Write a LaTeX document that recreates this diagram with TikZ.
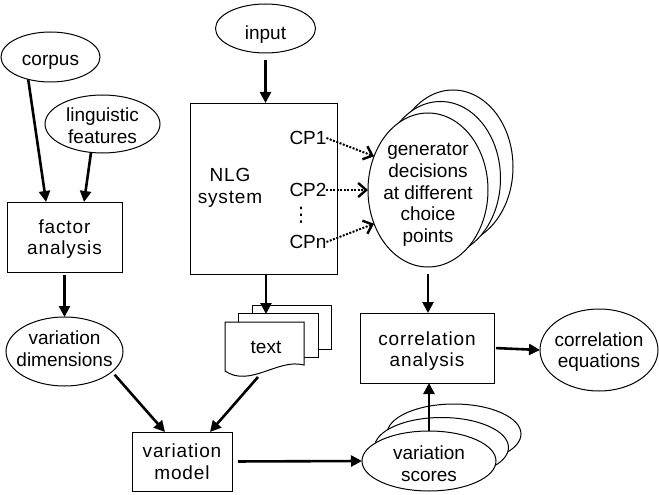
\documentclass[tikz,border=0pt]{standalone}
\usepackage{fontspec}
\setmainfont{Liberation Sans}
\newfontfamily\boxfont[LetterSpace=4.5]{Liberation Sans}
\newfontfamily\dejavu{DejaVu Sans}
\usetikzlibrary{shapes.geometric,arrows.meta,calc}
\begin{document}
\begin{tikzpicture}[x=1pt,y=-1pt,
  every node/.style={font=\fontsize{19}{21.7}\selectfont, align=center, inner sep=0pt, outer sep=0pt},
  ell/.style={draw, ellipse, line width=1pt, fill=white},
  rbox/.style={draw, rectangle, line width=1pt, fill=white},
  btext/.style={font=\boxfont\fontsize{19}{21.7}\selectfont},
  sheet/.style={draw, line width=1pt, fill=white},
  arr/.style={line width=2.6pt, -{Triangle[length=11pt,width=11pt]}},
  darr/.style={line width=2pt, dash pattern=on 2pt off 1.5pt, -{Straight Barb[length=8pt,width=14pt,line width=2.4pt]}}
]
\useasboundingbox (0,0) rectangle (659,495);

% left column
\node[ell, minimum width=99pt, minimum height=50pt] (corpus) at (50.5,57) {};
\node (corpusT) at ($(corpus)+(0,5)$) {corpus};
\node[ell, minimum width=115pt, minimum height=58pt] (ling) at (102.5,124) {};
\node (lingT) at ($(ling)+(0,2)$) {linguistic\\features};
\node[rbox, minimum width=115pt, minimum height=70pt] (factor) at (64.5,237) {};
\node[btext] (factorT) at ($(factor)+(0,2)$) {factor\\analysis};
\node[ell, minimum width=117pt, minimum height=69pt] (vardim) at (64.5,351.5) {};
\node (vardimT) at ($(vardim)+(0,-3)$) {variation\\dimensions};
\node[rbox, btext, minimum width=100pt, minimum height=59pt] (varmodel) at (182,461.5) {variation\\model};

% NLG system
\node[ell, minimum width=100pt, minimum height=49pt] (input) at (265.5,28.5) {};
\node (inputT) at ($(input)+(0,6)$) {input};
\node[rbox, minimum width=147pt, minimum height=171pt] (nlg) at (263.5,188.5) {};
\node[btext] (nlgtext) at (230,188) {NLG\\system};
\node (cp1) at (308,138) {CP1};
\node (cp2) at (308,190) {CP2};
\node[font=\dejavu\fontsize{20}{20}\selectfont] (cpdots) at (301,215) {⋮};
\node (cpn) at (308,242) {CPn};

% generator decisions stack
\node[ell, minimum width=120pt, minimum height=154pt] (gen3) at (453,167) {};
\node[ell, minimum width=120pt, minimum height=154pt] (gen2) at (440.5,178.5) {};
\node[ell, minimum width=120pt, minimum height=154pt] (gen) at (428,190) {};
\node (genT) at ($(gen)+(0,5)$) {generator\\decisions\\at different\\choice\\points};

% text document stack
\draw[sheet] (252,305) rectangle (331,349);
\draw[sheet] (238,313) rectangle (318,357);
\draw[sheet] (225,322) -- (304,322) -- (304,365) .. controls (278,358) and (250,388) .. (225,371) -- cycle;
\node (text) at (266,347) {text};
\coordinate (textTop) at (266,314);
\coordinate (textBot) at (258,377);

% correlation
\node[rbox, minimum width=134pt, minimum height=70pt] (corr) at (427,348) {};
\node[btext] (corrT) at ($(corr)+(0,3)$) {correlation\\analysis};
\node[ell, minimum width=118pt, minimum height=82pt] (correq) at (599,350) {};
\node (correqT) at ($(correq)+(0,2)$) {correlation\\equations};

% variation scores stack
\node[ell, minimum width=134pt, minimum height=60pt] (vs3) at (454,434) {};
\node[ell, minimum width=134pt, minimum height=60pt] (vs2) at (441.5,447.5) {};
\node[ell, minimum width=134pt, minimum height=60pt] (vs) at (429,461) {};
\node (vsT) at ($(vs)+(0,3)$) {variation\\scores};

% arrows
\draw[arr] (corpus.225) -- ($(factor.north west)!0.34!(factor.north east)$);
\draw[arr] (ling.248) -- ($(factor.north west)!0.67!(factor.north east)$);
\draw[arr, shorten <=3pt] (factor.south) -- (vardim.north);
\draw[arr, shorten <=4pt] (vardim.337) -- ($(varmodel.north west)!0.33!(varmodel.north east)$);
\draw[arr] (textBot) -- ($(varmodel.north west)!0.78!(varmodel.north east)$);
\draw[arr, shorten <=6pt] (varmodel.east) -- (vs.west);
\draw[arr] (vs.north) -- (vs.north |- corr.south);
\draw[arr, shorten <=2pt] (corr.east) -- (correq.west);
\draw[arr, shorten <=7pt] (input.south) -- (input.south |- nlg.north);
\draw[arr] (nlg.south -| textTop) -- (textTop);
\draw[arr, shorten <=7pt] (gen.south) -- (gen.south |- corr.north);

% dotted choice-point arrows
\draw[darr] (cp1.east) -- (gen.148);
\draw[darr] (cp2.east) -- (gen.180);
\draw[darr] (cpn.east) -- (gen.212);
\end{tikzpicture}
\end{document}
